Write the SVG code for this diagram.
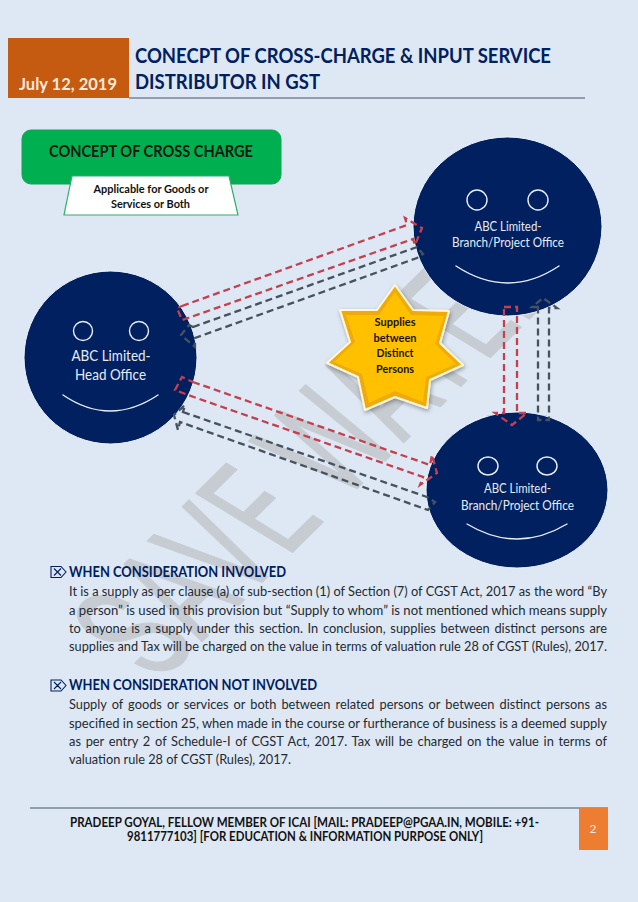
<svg xmlns="http://www.w3.org/2000/svg" width="638" height="902" viewBox="0 0 638 902">
<style>
text{font-family:"Lato","Carlito","Open Sans",sans-serif}
.b{font-weight:700}
.c{text-anchor:middle}
.title{font-size:21.500px;font-weight:700;fill:#002060}
.body{font-size:13.500px;fill:#1f2a33}
.hd{font-size:15px;font-weight:700;fill:#002060}
.foot{font-size:12.500px;font-weight:700;fill:#111}
.wm{font-family:"Roboto",sans-serif;font-weight:400;font-size:100px;fill:#c7ccd2;stroke:#c7ccd2;stroke-width:.8;stroke-linejoin:round}
.face{fill:#002060;stroke:#eef3fa;stroke-width:1}
.eye{fill:#002060;stroke:#e8eef8;stroke-width:1.400}
.smile{fill:none;stroke:#e8eef8;stroke-width:1.400;stroke-linecap:round}
.ft{fill:#e6ecf7}
.red{fill:none;stroke:#c5404f;stroke-width:2.300;stroke-dasharray:7 4}
.gry{fill:none;stroke:#46525f;stroke-width:2.300;stroke-dasharray:7 4}
.ic{fill:none;stroke:#002060;stroke-width:1.100}
</style>
<defs>
<filter id="sh" x="-20%" y="-20%" width="140%" height="140%"><feDropShadow dx="1" dy="2" stdDeviation="2" flood-color="#000" flood-opacity=".35"/></filter>
</defs>
<rect width="638" height="902" fill="#dde8f4"/>
<text id="watermark" class="wm" transform="matrix(0.689 -0.679 1.36 0.83 160 683)">SAVE WATER</text>

<g id="header">
<rect x="8" y="38" width="121" height="60" fill="#c55a11"/>
<line x1="129" y1="98" x2="585" y2="98" stroke="#44546a" stroke-width="1"/>
<text x="19" y="90" class="b" font-size="17" fill="#fbe9dc" textLength="98" lengthAdjust="spacingAndGlyphs">July 12, 2019</text>
<text x="135" y="63" class="title" textLength="416" lengthAdjust="spacingAndGlyphs">CONECPT OF CROSS-CHARGE &amp; INPUT SERVICE</text>
<text x="135" y="89" class="title" textLength="185" lengthAdjust="spacingAndGlyphs">DISTRIBUTOR IN GST</text>
</g>

<g id="concept">
<rect x="22" y="130" width="259" height="54" rx="9" fill="#00b050" stroke="#14a455" stroke-width="1"/>
<text x="151" y="157" class="b c" font-size="17" fill="#0c1a10" textLength="204" lengthAdjust="spacingAndGlyphs">CONCEPT OF CROSS CHARGE</text>
</g>
<g id="applicable">
<polygon points="72,176 229,176 238,215 64,215" fill="#fff" stroke="#2fae6a" stroke-width="1.200"/>
<text x="151" y="193" class="b c" font-size="12" fill="#111" textLength="115" lengthAdjust="spacingAndGlyphs">Applicable for Goods or</text>
<text x="150.500" y="208" class="b c" font-size="12" fill="#111" textLength="79" lengthAdjust="spacingAndGlyphs">Services or Both</text>
</g>

<g id="node-top">
<ellipse class="face" cx="507.500" cy="226.500" rx="94.500" ry="89.500"/>
<circle class="eye" cx="477" cy="200" r="10"/><circle class="eye" cx="538" cy="200" r="10"/>
<text x="508" y="231" class="c ft" font-size="13.500" textLength="67" lengthAdjust="spacingAndGlyphs">ABC Limited-</text>
<text x="508" y="247" class="c ft" font-size="13.500" textLength="112" lengthAdjust="spacingAndGlyphs">Branch/Project Office</text>
<path class="smile" d="M456 266Q508 300 559 266"/>
</g>
<g id="node-head">
<circle class="face" cx="110.500" cy="357.500" r="86.500"/>
<circle class="eye" cx="83" cy="331" r="9.500"/><circle class="eye" cx="139" cy="331" r="9.500"/>
<text x="111" y="361" class="c ft" font-size="15.500" textLength="79" lengthAdjust="spacingAndGlyphs">ABC Limited-</text>
<text x="110.500" y="380" class="c ft" font-size="15.500" textLength="71" lengthAdjust="spacingAndGlyphs">Head Office</text>
<path class="smile" d="M63 395Q110 427 158 395"/>
</g>
<g id="node-bottom">
<ellipse class="face" cx="517" cy="490" rx="91" ry="78"/>
<ellipse class="eye" cx="488" cy="466" rx="10" ry="9"/><ellipse class="eye" cx="547" cy="466" rx="10" ry="9"/>
<text x="517.500" y="493" class="c ft" font-size="13.500" textLength="67" lengthAdjust="spacingAndGlyphs">ABC Limited-</text>
<text x="517.500" y="510" class="c ft" font-size="13.500" textLength="113" lengthAdjust="spacingAndGlyphs">Branch/Project Office</text>
<path class="smile" d="M467 524Q517 554 567 524"/>
</g>

<g id="connectors">
<path class="red" d="M182 306L407 225L405 218L422 228L415 245L413 239L188 318L182 320L177 308Z"/>
<path class="gry" d="M193 327L417 247L423 254L417 258L195 338L195 347L181 335L189 325Z"/>
<path class="red" d="M193 382L430 465L432 455L437 473L420 485L423 477L188 395L175 390L182 377Z"/>
<path class="gry" d="M183 412L427 497L435 502L428 510L180 422L178 430L174 415L185 405Z"/>
<path class="red" d="M504 307H517V413H527L512 425L495 413H504Z"/>
<path class="gry" d="M538 307L532 307L543 298L557 308H549V420H538Z"/>
</g>

<g id="star">
<polygon points="395,285 413,310 449,311 440,343 463,365 430,380 427,408 395,397 365,410 358,377 327,363 350,342 340,310 377,310" fill="#eeab0a" stroke="#fff6d8" stroke-width="2" stroke-linejoin="round" filter="url(#sh)"/>
<polygon points="395,292 411,315 444,316 435,344 456,364 426,377 423,402 395,391 369,403 362,374 334,362 355,342 346,315 379,315" fill="#ffc000"/>
<text x="395" y="326" class="b c" font-size="12" fill="#1c1408" textLength="41" lengthAdjust="spacingAndGlyphs">Supplies</text>
<text x="395" y="342" class="b c" font-size="12" fill="#1c1408" textLength="43" lengthAdjust="spacingAndGlyphs">between</text>
<text x="395" y="357" class="b c" font-size="12" fill="#1c1408" textLength="37" lengthAdjust="spacingAndGlyphs">Distinct</text>
<text x="395" y="373" class="b c" font-size="12" fill="#1c1408" textLength="38" lengthAdjust="spacingAndGlyphs">Persons</text>
</g>

<g id="section-1">
<path class="ic" d="M51 566.500H61L66 572L61 577.500H51Z M54 568.500L61 575.500M61 568.500L54 575.500"/>
<text x="69" y="577" class="hd" textLength="217" lengthAdjust="spacingAndGlyphs">WHEN CONSIDERATION INVOLVED</text>
<text x="69" y="596" class="body" textLength="538" lengthAdjust="spacingAndGlyphs">It is a supply as per clause (a) of sub-section (1) of Section (7) of CGST Act, 2017 as the word “By</text>
<text x="69" y="614.500" class="body" textLength="538" lengthAdjust="spacingAndGlyphs">a person” is used in this provision but “Supply to whom” is not mentioned which means supply</text>
<text x="69" y="633" class="body" word-spacing="1.500" textLength="538" lengthAdjust="spacingAndGlyphs">to anyone is a supply under this section. In conclusion, supplies between distinct persons are</text>
<text x="69" y="651" class="body" textLength="538" lengthAdjust="spacingAndGlyphs">supplies and Tax will be charged on the value in terms of valuation rule 28 of CGST (Rules), 2017.</text>
</g>
<g id="section-2">
<path class="ic" d="M51 680H61L66 685.500L61 691H51Z M54 682L61 689M61 682L54 689"/>
<text x="69" y="690" class="hd" textLength="248" lengthAdjust="spacingAndGlyphs">WHEN CONSIDERATION NOT INVOLVED</text>
<text x="69" y="709" class="body" word-spacing="1.900" textLength="538" lengthAdjust="spacingAndGlyphs">Supply of goods or services or both between related persons or between distinct persons as</text>
<text x="69" y="727.500" class="body" textLength="538" lengthAdjust="spacingAndGlyphs">specified in section 25, when made in the course or furtherance of business is a deemed supply</text>
<text x="69" y="746" class="body" word-spacing="1.500" textLength="538" lengthAdjust="spacingAndGlyphs">as per entry 2 of Schedule-I of CGST Act, 2017. Tax will be charged on the value in terms of</text>
<text x="69" y="764" class="body" textLength="222" lengthAdjust="spacingAndGlyphs">valuation rule 28 of CGST (Rules), 2017.</text>
</g>

<g id="footer">
<line x1="30" y1="808" x2="608" y2="808" stroke="#44546a" stroke-width="1"/>
<rect x="579" y="808" width="29" height="42" fill="#ed7d31"/>
<text x="593" y="833" class="c" font-size="12" fill="#fbe5d6">2</text>
<text x="70" y="827" class="foot" textLength="469" lengthAdjust="spacingAndGlyphs">PRADEEP GOYAL, FELLOW MEMBER OF ICAI [MAIL: PRADEEP@PGAA.IN, MOBILE: +91-</text>
<text x="127" y="841" class="foot" textLength="356" lengthAdjust="spacingAndGlyphs">9811777103] [FOR EDUCATION &amp; INFORMATION PURPOSE ONLY]</text>
</g>
</svg>
